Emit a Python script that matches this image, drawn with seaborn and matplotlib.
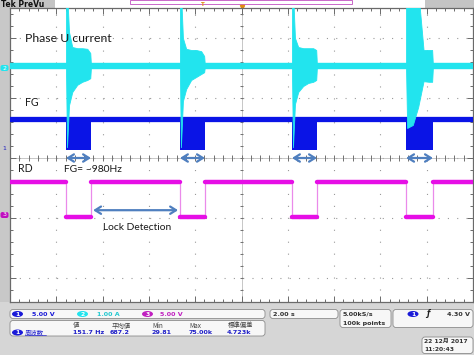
import numpy as np
import pandas as pd
import matplotlib
matplotlib.use("Agg")
import matplotlib.pyplot as plt
import seaborn as sns
from matplotlib.patches import Rectangle, FancyBboxPatch, Ellipse

sns.set_theme(style="white")
plt.rcParams['font.family'] = ['Lato', 'Noto Sans CJK JP', 'DejaVu Sans']
plt.rcParams['lines.scale_dashes'] = False

# ---------------- data (time in s, amplitude in screen divisions) ----------------
burst_start = [2.42, 7.34, 12.18, 17.11]
burst_end = [3.50, 8.42, 13.26, 18.27]
env_frac = [0.0, 0.04, 0.12, 0.25, 0.45, 0.65, 0.85, 0.97, 1.0]
cur_upper = [
    [2.8, 2.8, 2.10, 1.85, 1.83, 1.83, 1.82, 1.75, 1.53],
    [2.8, 2.8, 2.00, 1.82, 1.80, 1.80, 1.78, 1.70, 1.53],
    [2.8, 2.8, 2.00, 1.85, 1.83, 1.83, 1.83, 1.80, 1.53],
    [2.8, 2.8, 2.80, 2.80, 2.80, 1.80, 1.80, 1.80, 1.53],
]
cur_lower = [
    [1.45, 0.18, 0.88, 1.10, 1.22, 1.27, 1.30, 1.33, 1.53],
    [1.45, 0.18, 0.95, 1.15, 1.30, 1.35, 1.40, 1.43, 1.53],
    [1.45, 0.18, 0.90, 1.10, 1.20, 1.25, 1.27, 1.30, 1.53],
    [1.45, 0.50, 0.52, 0.55, 0.85, 1.28, 1.27, 1.27, 1.53],
]
cur_base = 1.53
fg_high = 0.65
fg_low = 0.13
rd_high = -0.40
rd_low = -0.98
t_span = [0.0, 20.0]

labels = ["Phase U current", "FG", "FG= ~980Hz", "RD", "Lock Detection"]

ch_row = [("1", "5.00 V", "#1a1ad8"), ("2", "1.00 A", "#22c8d0"), ("3", "5.00 V", "#c020c0")]
meas_head = ["値", "平均値", "Min", "Max", "標準偏差"]
meas_vals = ["151.7 Hz", "687.2", "29.81", "75.00k", "4.723k"]

CYAN = "#22e4ee"
BLUE = "#0a14e6"
MAG = "#e60ee6"
MAG_L = "#ea8aea"
ARROW = "#4f7fbf"

# ---------------- figure ----------------
W, H = 474, 355
fig = plt.figure(figsize=(W / 100, H / 100), dpi=100, facecolor="#d6d6d6")

cx = fig.add_axes([0, 0, 1, 1], zorder=0)
cx.set_xlim(0, W)
cx.set_ylim(H, 0)
cx.axis("off")

L, R, T, B = 10, 473, 8, 302
ax = fig.add_axes([L / W, (H - B) / H, (R - L) / W, (B - T) / H], zorder=2)
ax.set_facecolor("white")
ax.set_xlim(*t_span)
ax.set_ylim(-2.4, 2.5)

# grid (dotted) and centre cross
for gx in np.arange(2, 20, 2):
    ax.axvline(gx, color="#9a9a9a", lw=0.8, ls=(0, (0.8, 7.8)), zorder=0)
for gy in [-2, -1, 0, 1, 2]:
    ax.axhline(gy, color="#9a9a9a", lw=0.8, ls=(0, (0.8, 5.9)), zorder=0)
ax.vlines(10, -2.4, 2.5, color="#b0b0b0", lw=0.5, zorder=0)
ax.hlines(0, 0, 20, color="#b0b0b0", lw=0.5, zorder=0)
for tx in np.arange(0, 20.01, 0.4):
    ax.vlines(tx, -0.045, 0.045, color="#707070", lw=0.7, zorder=0)
for ty in np.arange(-2.4, 2.51, 0.2):
    ax.hlines(ty, 9.93, 10.07, color="#707070", lw=0.7, zorder=0)

ax.set_xticks(np.arange(0, 20.01, 2))
ax.set_xticks(np.arange(0, 20.01, 0.4), minor=True)
ax.set_yticks([-2, -1, 0, 1, 2])
ax.set_yticks(np.arange(-2.4, 2.5, 0.2), minor=True)
ax.tick_params(which="both", direction="in", top=True, right=True, bottom=True, left=True,
               labelbottom=False, labelleft=False, color="#6a6a6a", width=0.7)
ax.tick_params(which="major", length=4)
ax.tick_params(which="minor", length=2.5)
for s in ax.spines.values():
    s.set_color("#6a6a6a")
    s.set_linewidth(0.9)
ax.grid(False)

# RD (channel 3)
rd_t, rd_v = [t_span[0]], [rd_high]
for s, e in zip(burst_start, burst_end):
    rd_t += [s, s, e, e]
    rd_v += [rd_high, rd_low, rd_low, rd_high]
rd_t.append(t_span[1]); rd_v.append(rd_high)
sns.lineplot(x=rd_t, y=rd_v, sort=False, estimator=None, color=MAG_L, lw=0.9, ax=ax, zorder=3)
seg_rows = []
edges = [t_span[0]] + [v for pair in zip(burst_start, burst_end) for v in pair] + [t_span[1]]
for i in range(len(edges) - 1):
    lvl = rd_low if i % 2 == 1 else rd_high
    seg_rows += [(edges[i], lvl, i), (edges[i + 1], lvl, i)]
rd_df = pd.DataFrame(seg_rows, columns=["t", "v", "seg"])
sns.lineplot(data=rd_df, x="t", y="v", units="seg", estimator=None, color=MAG, lw=3.2,
             ax=ax, legend=False, zorder=4)

# FG (channel 1)
sns.lineplot(x=t_span, y=[fg_high, fg_high], color=BLUE, lw=3.8, ax=ax, zorder=5)
for s, e in zip(burst_start, burst_end):
    ax.fill_between([s, e], fg_low, fg_high, color=BLUE, lw=0, zorder=5)

# Phase U current (channel 2)
sns.lineplot(x=t_span, y=[cur_base, cur_base], color=CYAN, lw=4.6, ax=ax, zorder=6)
for s, e, up, lo in zip(burst_start, burst_end, cur_upper, cur_lower):
    tt = [s + f * (e - s) for f in env_frac]
    ax.fill_between(tt, lo, up, color=CYAN, lw=0.6, edgecolor=CYAN, zorder=6)

# annotations
aprops = dict(arrowstyle="<->,head_length=0.35,head_width=0.22", color=ARROW, lw=1.6,
              shrinkA=0, shrinkB=0)
for s, e in zip(burst_start, burst_end):
    ax.annotate("", xy=(e, 0.0), xytext=(s, 0.0), arrowprops=aprops, zorder=8)
ax.annotate("", xy=(burst_start[1] - 0.08, -0.87), xytext=(burst_end[0] + 0.09, -0.87),
            arrowprops=aprops, zorder=8)

tkw = dict(color="#1a1a1a", va="center", ha="left", zorder=9)
ax.text(0.65, 2.0, labels[0], fontsize=8.8, **tkw)
ax.text(0.65, 0.92, labels[1], fontsize=7.6, **tkw)
ax.text(2.33, -0.19, labels[2], fontsize=7.4, **tkw)
ax.text(0.35, -0.17, labels[3], fontsize=7.6, **tkw)
ax.text(4.02, -1.15, labels[4], fontsize=7.4, **tkw)

# ---------------- instrument chrome ----------------
cx.add_patch(Rectangle((0, 0), 55, 8, color="#c4c4c4", lw=0))
cx.add_patch(Rectangle((55, 0), 370, 8, color="white", lw=0))
cx.add_patch(Rectangle((425, 0), 49, 8, color="#c4c4c4", lw=0))
cx.add_patch(Rectangle((130, 0), 222, 3.5, fill=False, edgecolor="#c050c0", lw=0.6))
cx.text(1, 4.2, "Tek PreVu", fontsize=5.5, family="DejaVu Sans", va="center", ha="left",
        color="#101010", fontweight="bold")
cx.text(203, 5, "T", fontsize=4, color="#e08a10", ha="center", va="center", fontweight="bold", family="DejaVu Sans")
cx.plot([241.7], [7.2], marker="v", ms=3, color="#e08a10")
cx.add_patch(Rectangle((0, 8), 10, 294, color="#c8c8c8", lw=0))

# channel ground markers on the left edge
for yy, txt, col, tc in [(68, "2", CYAN, "white"), (149, "1", None, "#2020c0"), (215, "3", "#c010c0", "white")]:
    if col:
        cx.add_patch(FancyBboxPatch((0.5, yy - 3), 8, 6, boxstyle="round,pad=0,rounding_size=2",
                                    color=col, lw=0))
    cx.text(4.5, yy, txt, fontsize=4.5, color=tc, ha="center", va="center", family="DejaVu Sans")

def box(x0, y0, w, h):
    cx.add_patch(FancyBboxPatch((x0, y0), w, h, boxstyle="round,pad=0,rounding_size=3",
                                facecolor="#f7f7f7", edgecolor="#8c8c8c", lw=0.6))

def badge(xc, yc, txt, col):
    cx.add_patch(Ellipse((xc, yc), 11, 6, color=col, lw=0))
    cx.text(xc, yc, txt, fontsize=4.3, color="white", ha="center", va="center",
            family="DejaVu Sans", fontweight="bold")

sfont = dict(fontsize=4.6, family=["DejaVu Sans", "Noto Sans CJK JP"], fontweight="bold",
             va="center", ha="left")

box(10, 309.5, 255, 9)
for (n, val, col), bx, tx in zip(ch_row, [17.5, 82.5, 147.5], [32, 97, 160]):
    badge(bx, 314, n, col if n != "2" else CYAN)
    cx.text(tx, 314.2, val, color=col, **sfont)

box(10, 320.5, 255, 15.5)
badge(17.5, 332.5, "1", "#1a1ad8")
cx.text(25, 332.5, "周波数", color="#2a2ad0", fontsize=4.6, family=["Noto Sans CJK JP"],
        va="center", ha="left")
cx.plot([25, 46], [335.3, 335.3], color="#2a2ad0", lw=0.5)
for hx, vx, h, v in zip([73, 112, 152, 189, 228], [73, 110, 152, 189, 227], meas_head, meas_vals):
    cx.text(hx, 325.5, h, color="#404040", fontsize=4.6, family=["Noto Sans CJK JP", "DejaVu Sans"],
            va="center", ha="left")
    cx.text(vx, 332.8, v, color="#2020c8", **sfont)

box(270, 309.5, 68, 9)
cx.text(273, 314, "2.00 s", color="#303030", **sfont)
box(340, 309.5, 51, 18)
cx.text(343, 314, "5.00kS/s", color="#303030", **sfont)
cx.text(343, 323, "100k points", color="#303030", **sfont)
box(393, 309.5, 80, 18)
badge(413, 314, "1", "#1a1ad8")
cx.text(426, 314, "ƒ", color="#202020", fontsize=5.5, family="DejaVu Sans", va="center", ha="left",
        fontstyle="italic", fontweight="bold")
cx.text(447, 314, "4.30 V", color="#303030", **sfont)
box(422, 337, 51, 16.5)
dfont = dict(sfont, fontsize=4.3)
cx.text(424.5, 341.5, "22 12月 2017", color="#303030", **dfont)
cx.text(424.5, 349.5, "11:20:43", color="#303030", **dfont)

fig.savefig("out.png", dpi=100, facecolor=fig.get_facecolor())
